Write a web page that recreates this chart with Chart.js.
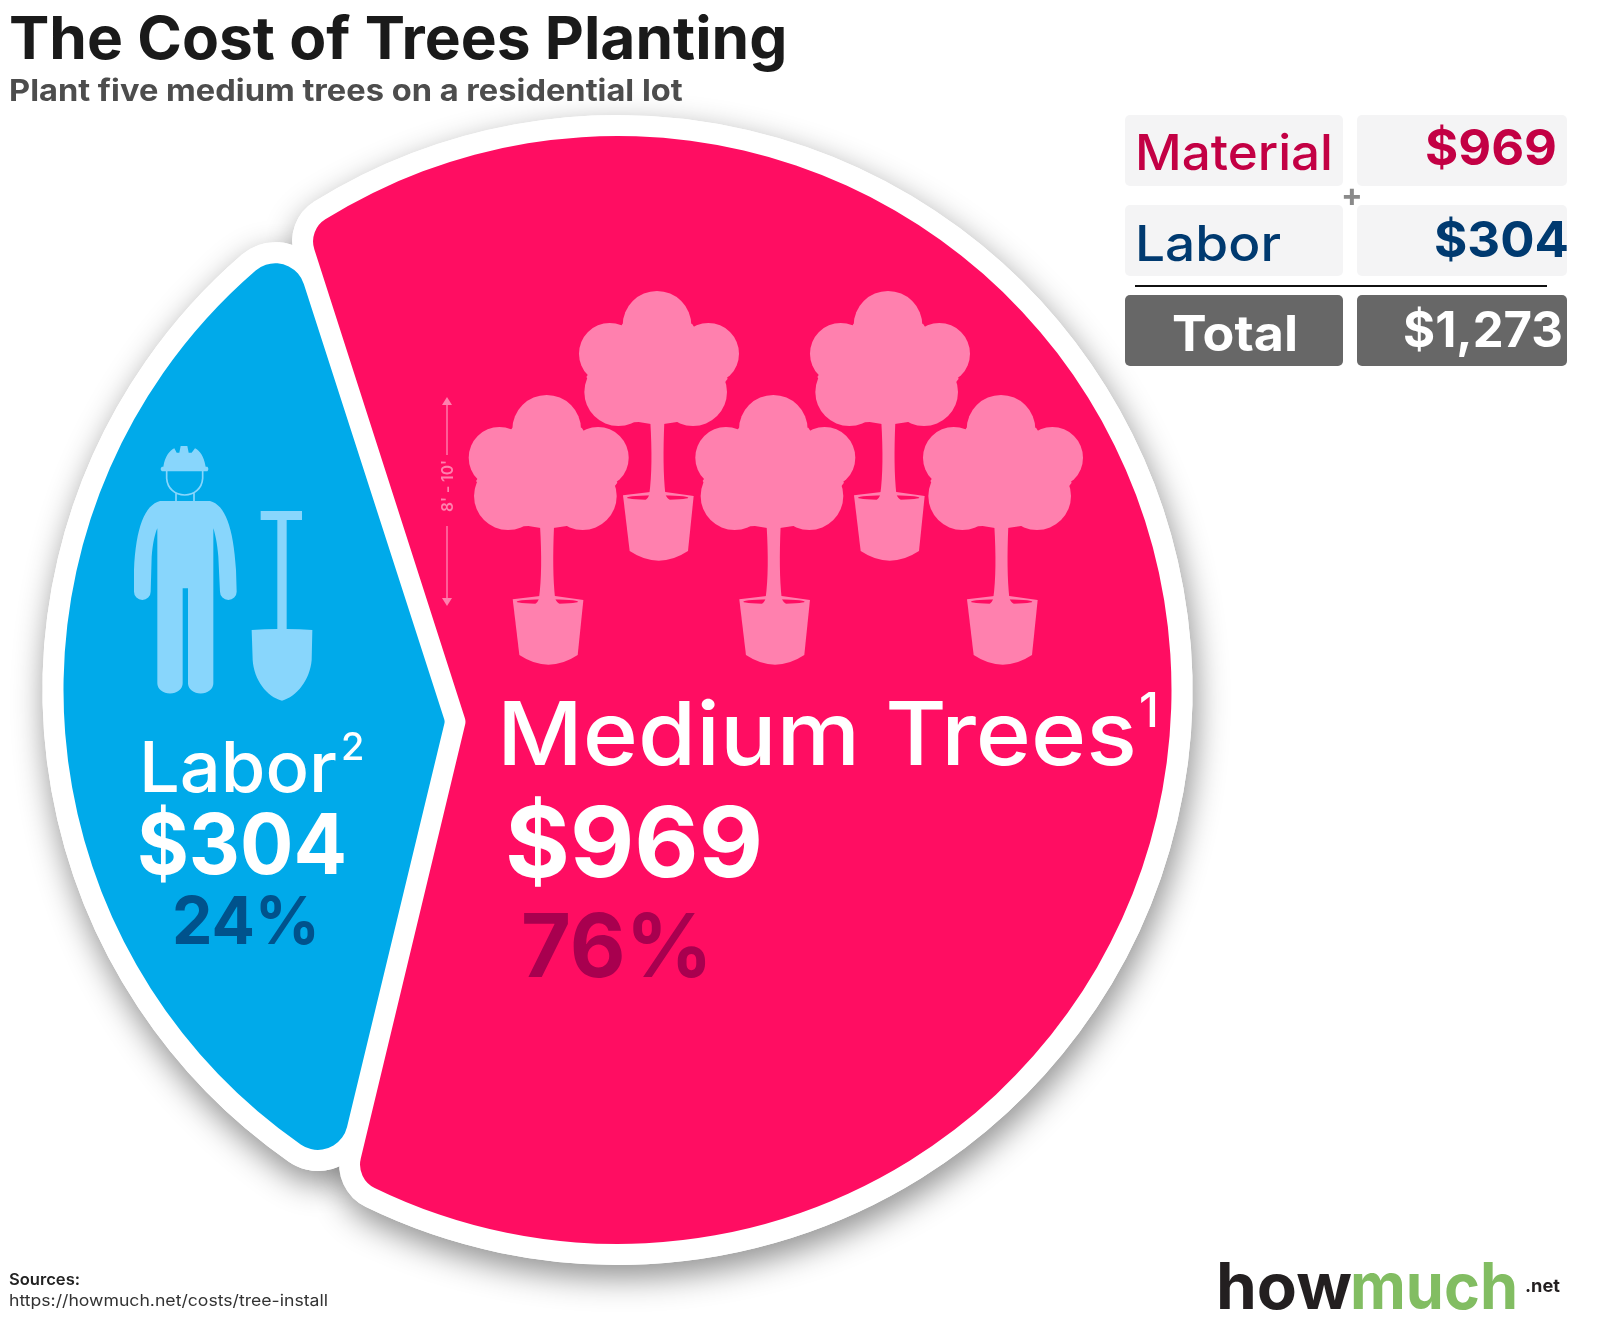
<!DOCTYPE html>
<html><head><meta charset="utf-8">
<style>html,body{margin:0;padding:0;background:#fff}canvas{display:block}</style>
<script src="https://cdn.jsdelivr.net/npm/chart.js@4"></script>
</head><body><canvas id="c" width="1600" height="1328"></canvas>
<script>
const titleText = "The Cost of Trees Planting";
const subtitleText = "Plant five medium trees on a residential lot";
const categories = ["Medium Trees", "Labor"];
const superscripts = ["1", "2"];
const values = [969, 304];
const percents = ["76%", "24%"];
const tableLabels = ["Material", "Labor", "Total"];
const tableValues = [969, 304, 1273];
const sliceColors = ["#FF0D62", "#00AAEA"];
const sources = ["Sources:", "https://howmuch.net/costs/tree-install"];
const heightNote = "8' - 10'";
const treeRowFront = [546.7, 773.3, 1001];
const treeRowBack = [657, 888];

const F = "Inter, 'Open Sans', sans-serif";
const TREE = "#FF80AE", ICON = "#88D6FC", BAND = 21;
const money = v => "$" + v.toLocaleString("en-US");

// Non-centred split: the pie is the library's, each wedge is stretched around its own mid-angle
const rad = d => d * Math.PI / 180;
const SHAPE = [
  {span: 0.8835, apexDist: 0.2794, apexTurn: -8.8, fillet: 26, apexRound: 12, flip: true},
  {span: 1.3194, apexDist: 0.3166, apexTurn: -7.4, fillet: 30, apexRound: 8, flip: false}
];
function corner(O, R, E, A, M, rho) {
  let ux = A.x - E.x, uy = A.y - E.y; const l = Math.hypot(ux, uy); ux /= l; uy /= l;
  let nx = -uy, ny = ux;
  if (nx * (M.x - E.x) + ny * (M.y - E.y) < 0) { nx = -nx; ny = -ny; }
  const dx = E.x + nx * rho - O.x, dy = E.y + ny * rho - O.y;
  const b = dx * ux + dy * uy, c = dx * dx + dy * dy - (R - rho) * (R - rho);
  const t = -b - Math.sqrt(Math.max(0, b * b - c));
  const C = {x: E.x + nx * rho + ux * t, y: E.y + ny * rho + uy * t};
  const a1 = Math.atan2(C.y - O.y, C.x - O.x);
  const L = {x: E.x + ux * t, y: E.y + uy * t};
  return {C, arcAngle: a1, lineAngle: Math.atan2(L.y - C.y, L.x - C.x), L};
}
function slicePath(ctx, el, s) {
  const O = {x: el.x, y: el.y}, R = el.outerRadius;
  const mid = (el.startAngle + el.endAngle) / 2, half = (el.endAngle - el.startAngle) / 2 * s.span;
  const a0 = mid - half, a1 = mid + half;
  const apexA = (s.flip ? mid + Math.PI : mid) + rad(s.apexTurn);
  const A = {x: O.x + Math.cos(apexA) * s.apexDist * R, y: O.y + Math.sin(apexA) * s.apexDist * R};
  const M = {x: O.x + Math.cos(mid) * R, y: O.y + Math.sin(mid) * R};
  const P0 = {x: O.x + Math.cos(a0) * R, y: O.y + Math.sin(a0) * R};
  const P1 = {x: O.x + Math.cos(a1) * R, y: O.y + Math.sin(a1) * R};
  const c0 = corner(O, R, P0, A, M, s.fillet), c1 = corner(O, R, P1, A, M, s.fillet);
  ctx.beginPath();
  ctx.arc(O.x, O.y, R, c0.arcAngle, c1.arcAngle, false);
  ctx.arc(c1.C.x, c1.C.y, s.fillet, c1.arcAngle, c1.lineAngle, false);
  ctx.arcTo(A.x, A.y, c0.L.x, c0.L.y, s.apexRound);
  ctx.lineTo(c0.L.x, c0.L.y);
  ctx.arc(c0.C.x, c0.C.y, s.fillet, c0.lineAngle, c0.arcAngle, false);
  ctx.closePath();
}

function text(ctx, str, x, y, o) {
  ctx.save();
  ctx.font = `${o.w || 700} ${o.s}px ${F}`;
  ctx.fillStyle = o.c; ctx.textBaseline = "alphabetic"; ctx.textAlign = "left";
  const hx = o.fit ? o.fit / ctx.measureText(str).width : 1;
  ctx.translate(x, y);
  if (o.rot) ctx.rotate(o.rot);
  ctx.scale(hx, 1);
  ctx.fillText(str, 0, 0);
  ctx.restore();
}
function rrect(ctx, x, y, w, h, c) {
  ctx.fillStyle = c; ctx.beginPath(); ctx.roundRect(x, y, w, h, 5); ctx.fill();
}
function tree(ctx, x, y) {
  ctx.save(); ctx.translate(x, y); ctx.scale(1 / 3, 1 / 3); ctx.translate(-680, -35);
  ctx.fillStyle = TREE;
  [[680,135,103],[538,220,92],[834,220,92],[564,335,102],[788,335,102]].forEach(c => {
    ctx.beginPath(); ctx.arc(c[0], c[1], c[2], 0, 7); ctx.fill();
  });
  ctx.fill(new Path2D("M577,130 L785,130 L892,295 L790,428 L740,425 L680,434 L625,425 L570,428 L468,290 Z"));
  ctx.beginPath(); ctx.moveTo(578,645); ctx.lineTo(660,635); ctx.lineTo(705,635); ctx.lineTo(790,647);
  ctx.lineTo(773,812); ctx.quadraticCurveTo(685,870,598,812); ctx.closePath(); ctx.fill();
  ctx.fillStyle = sliceColors[0];
  ctx.beginPath(); ctx.ellipse(682,652,92,7,0,0,7); ctx.fill();
  ctx.fillStyle = TREE;
  ctx.fill(new Path2D("M660,425 L702,425 Q696,560 705,640 Q708,655 725,662 L640,662 Q655,655 657,640 Q668,560 660,425 Z"));
  ctx.restore();
}
function worker(ctx) {
  ctx.save(); ctx.translate(110, 430); ctx.scale(1 / 3, 1 / 3);
  ctx.fillStyle = ICON; ctx.strokeStyle = ICON;
  ctx.fill(new Path2D("M150,213 L300,213 C345,225 370,290 378,420 L380,485 A25,25 0 0 1 330,485 L325,380 C322,340 315,310 310,295 L310,760 A37,30 0 0 1 234,760 L234,475 L218,475 L218,760 A37,30 0 0 1 142,760 L142,295 C135,310 128,340 125,380 L122,485 A25,25 0 0 1 72,485 L72,420 C78,290 105,225 150,213 Z"));
  ctx.lineWidth = 5;
  ctx.stroke(new Path2D("M170,122 L170,145 C172,175 195,195 224,195 C253,195 276,175 278,145 L278,122 M198,190 L198,215 M252,190 L252,215"));
  ctx.fill(new Path2D("M160,110 C165,80 178,62 193,55 L200,68 L208,68 L212,48 L232,48 L236,68 L245,68 L255,55 C270,62 282,80 287,110 L292,110 Q298,116 292,124 L156,124 Q148,116 156,110 Z"));
  ctx.fill(new Path2D("M452,243 H576 V270 H530 V597 Q568,597 607,600 L605,690 C600,750 560,800 516,812 C470,800 432,750 428,690 L425,600 Q465,597 502,597 V270 H452 Z"));
  ctx.restore();
}
const TITLE_STRETCH = {[titleText]: 1.024, [subtitleText]: 1.087};

const deco = {
  id: "deco",
  afterLayout(chart) {
    const a = chart.chartArea;
    a.left = 63.5; a.right = 1171.5; a.top = 136; a.bottom = 1244; a.width = 1108; a.height = 1108;
    chart.boxes.forEach(b => {
      const hx = b.options && TITLE_STRETCH[b.options.text];
      if (hx && !b._wrapped) {
        const d = b.draw; b._wrapped = true;
        b.draw = function (...args) {
          const ctx = chart.ctx;
          ctx.save(); ctx.translate(9, 0); ctx.scale(hx, 1); ctx.translate(-9, 0);
          d.apply(this, args);
          ctx.restore();
        };
      }
    });
  },
  afterDatasetsUpdate(chart) {
    chart.getDatasetMeta(0).data.forEach((el, i) => {
      el.draw = function (ctx) {
        slicePath(ctx, this, SHAPE[i]);
        ctx.fillStyle = this.options.backgroundColor;
        ctx.fill();
      };
    });
  },
  beforeDatasetsDraw(chart) {
    const ctx = chart.ctx, arcs = chart.getDatasetMeta(0).data;
    ctx.save();
    ctx.lineJoin = "round"; ctx.lineWidth = BAND * 2; ctx.strokeStyle = "#fff"; ctx.fillStyle = "#fff";
    ctx.shadowColor = "rgba(0,0,0,0.45)"; ctx.shadowBlur = 32; ctx.shadowOffsetX = 3; ctx.shadowOffsetY = 12;
    arcs.forEach((el, i) => { slicePath(ctx, el, SHAPE[i]); ctx.stroke(); });
    ctx.shadowColor = "transparent"; ctx.shadowBlur = 0; ctx.shadowOffsetX = 0; ctx.shadowOffsetY = 0;
    arcs.forEach((el, i) => { slicePath(ctx, el, SHAPE[i]); ctx.stroke(); ctx.fill(); });
    ctx.restore();
  },
  afterDatasetsDraw(chart) {
    const ctx = chart.ctx;
    treeRowBack.forEach(x => tree(ctx, x, 292));
    treeRowFront.forEach(x => tree(ctx, x, 396));
    worker(ctx);
    // height arrow
    ctx.save(); ctx.strokeStyle = TREE; ctx.fillStyle = TREE; ctx.lineWidth = 1.4;
    ctx.beginPath(); ctx.moveTo(447, 400); ctx.lineTo(447, 455); ctx.moveTo(447, 526); ctx.lineTo(447, 603); ctx.stroke();
    ctx.beginPath(); ctx.moveTo(447, 397); ctx.lineTo(452, 405); ctx.lineTo(442, 405); ctx.closePath();
    ctx.moveTo(447, 606); ctx.lineTo(452, 598); ctx.lineTo(442, 598); ctx.closePath(); ctx.fill();
    ctx.restore();
    text(ctx, heightNote, 453, 512, {s: 16, w: 600, c: TREE, rot: -Math.PI / 2, fit: 52});
    // slice labels
    text(ctx, categories[0], 497, 765, {s: 88, w: 550, c: "#fff", fit: 640});
    text(ctx, superscripts[0], 1139, 727, {s: 48, w: 500, c: "#fff"});
    text(ctx, money(values[0]), 505, 877, {s: 98, w: 700, c: "#fff", fit: 258});
    text(ctx, percents[0], 521, 977, {s: 88, w: 700, c: "#A8004F", fit: 192});
    text(ctx, categories[1], 139, 792, {s: 70, w: 550, c: "#fff", fit: 198});
    text(ctx, superscripts[1], 341, 760, {s: 38, w: 500, c: "#fff"});
    text(ctx, money(values[1]), 137, 874, {s: 84, w: 700, c: "#fff", fit: 210});
    text(ctx, percents[1], 172, 944, {s: 66, w: 700, c: "#00528C", fit: 148});
    // table
    [[115,"#F4F4F5"],[205,"#F4F4F5"],[295,"#676767"]].forEach(r => {
      rrect(ctx, 1125, r[0], 218, 71, r[1]); rrect(ctx, 1357, r[0], 210, 71, r[1]);
    });
    ctx.fillStyle = "#111"; ctx.fillRect(1135, 285, 412, 2);
    text(ctx, "+", 1341, 206, {s: 32, w: 700, c: "#8a8a8a"});
    text(ctx, tableLabels[0], 1135, 170, {s: 50, w: 500, c: "#C30044", fit: 198});
    text(ctx, money(tableValues[0]), 1425, 165, {s: 50, w: 700, c: "#C30044", fit: 132});
    text(ctx, tableLabels[1], 1135, 261, {s: 50, w: 500, c: "#003A70", fit: 146});
    text(ctx, money(tableValues[1]), 1434, 257, {s: 50, w: 700, c: "#003A70", fit: 135});
    text(ctx, tableLabels[2], 1172, 351, {s: 50, w: 700, c: "#fff", fit: 126});
    text(ctx, money(tableValues[2]), 1403, 347, {s: 50, w: 700, c: "#fff", fit: 160});
    // footer
    text(ctx, sources[0], 9, 1285, {s: 16, w: 600, c: "#222", fit: 71});
    text(ctx, sources[1], 9, 1306, {s: 16, w: 400, c: "#333", fit: 319});
    text(ctx, "how", 1216, 1309, {s: 64, w: 700, c: "#231F20", fit: 136});
    text(ctx, "much", 1350, 1309, {s: 64, w: 700, c: "#82BD62", fit: 168});
    text(ctx, ".net", 1525, 1292, {s: 18, w: 700, c: "#231F20", fit: 35});
  }
};

new Chart(document.getElementById("c"), {
  type: "pie",
  plugins: [deco],
  data: {
    labels: categories,
    datasets: [{data: values, backgroundColor: sliceColors, borderWidth: 0, clip: false}]
  },
  options: {
    responsive: false, animation: false,
    rotation: -49.9,
    layout: {padding: {left: 9, top: 0, right: 0, bottom: 0}},
    plugins: {
      legend: {display: false},
      tooltip: {enabled: false},
      title: {display: true, text: titleText, align: "start", color: "#1A1A1A",
        font: {family: F, size: 59, weight: "700", lineHeight: 1}, padding: {top: 12, bottom: 0}},
      subtitle: {display: true, text: subtitleText, align: "start", color: "#4D4D4D",
        font: {family: F, size: 30, weight: "700", lineHeight: 1}, padding: {top: 6, bottom: 0}}
    }
  }
});
</script></body></html>
